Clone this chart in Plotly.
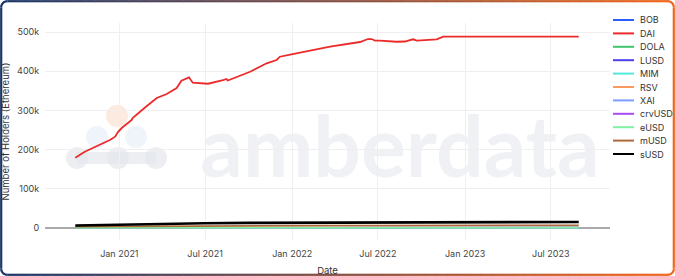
import plotly.graph_objects as go

# ---------------- data ----------------
dai_dates = ["2020-09-30", "2020-10-20", "2020-12-12", "2020-12-23", "2020-12-29", "2021-01-06",
             "2021-01-27", "2021-01-29", "2021-02-28", "2021-03-21", "2021-04-11", "2021-05-02",
             "2021-05-12", "2021-05-28", "2021-06-05", "2021-06-26", "2021-07-07", "2021-08-08",
             "2021-08-15", "2021-08-18", "2021-10-04", "2021-11-08", "2021-11-29", "2021-12-06",
             "2021-12-27", "2022-01-02", "2022-03-22", "2022-05-09", "2022-05-24", "2022-06-10",
             "2022-06-18", "2022-06-25", "2022-07-05", "2022-08-09", "2022-08-27", "2022-09-13",
             "2022-09-21", "2022-11-02", "2022-11-09", "2022-11-16", "2023-08-29"]
dai_values = [179300, 194600, 224500, 232900, 244900, 255100,
              275500, 280600, 311200, 331600, 341800, 357100,
              375800, 384400, 370700, 370000, 368100, 377500,
              380100, 376300, 398700, 420200, 428600, 437000,
              441300, 443900, 462500, 472700, 474500, 482100,
              482100, 477800, 477800, 475200, 475800, 481400,
              478000, 481400, 484700, 488000, 488000]

minor_dates = ["2020-09-30", "2020-12-31", "2021-03-31", "2021-06-30", "2021-09-30", "2021-12-31",
               "2022-03-31", "2022-06-30", "2022-09-30", "2022-12-31", "2023-03-31", "2023-06-30",
               "2023-08-29"]
bob_values = [0, 0, 0, 0, 0, 0, 0, 0, 0, 0, 0, 0, 100]
dola_values = [0, 0, 100, 200, 300, 400, 500, 500, 500, 500, 500, 500, 500]
lusd_values = [0, 0, 200, 400, 500, 600, 600, 700, 700, 700, 700, 700, 700]
mim_values = [0, 0, 0, 200, 400, 500, 600, 600, 600, 600, 600, 600, 600]
rsv_values = [300, 300, 300, 300, 300, 300, 300, 300, 300, 300, 300, 300, 300]
xai_values = [0, 0, 0, 0, 0, 0, 0, 0, 0, 0, 0, 0, 100]
crvusd_values = [0, 0, 0, 0, 0, 0, 0, 0, 0, 0, 0, 200, 300]
eusd_values = [300, 300, 300, 300, 300, 300, 300, 300, 300, 300, 300, 300, 300]
musd_values = [3500, 4200, 4800, 5200, 5500, 5800, 6000, 6200, 6300, 6400, 6500, 6600, 6700]
susd_values = [6500, 9000, 11000, 12300, 13000, 13500, 14000, 14500, 14800, 15000, 15200, 15400, 15500]

series_names = ["BOB", "DAI", "DOLA", "LUSD", "MIM", "RSV", "XAI", "crvUSD", "eUSD", "mUSD", "sUSD"]
series_colors = ["#2a5cff", "#ec2a2a", "#3ec66c", "#4a3ff0", "#52e8d6", "#fb9a5c",
                 "#7c9cff", "#a74cf2", "#7df2a2", "#b0683a", "#000000"]

y_ticks = [0, 100000, 200000, 300000, 400000, 500000]
y_tick_text = ["0", "100k", "200k", "300k", "400k", "500k"]
x_range = ["2020-07-28", "2023-11-03"]
y_range = [-30600, 523000]

# ---------------- figure ----------------
W, H = 675, 276
ML, MR, MT, MB = 45, 65, 23, 36
PW, PH = W - ML - MR, H - MT - MB


def px(x):
    return (x - ML) / PW


def py(y):
    return (H - MB - y) / PH


series_data = {
    "BOB": (minor_dates, bob_values),
    "DAI": (dai_dates, dai_values),
    "DOLA": (minor_dates, dola_values),
    "LUSD": (minor_dates, lusd_values),
    "MIM": (minor_dates, mim_values),
    "RSV": (minor_dates, rsv_values),
    "XAI": (minor_dates, xai_values),
    "crvUSD": (minor_dates, crvusd_values),
    "eUSD": (minor_dates, eusd_values),
    "mUSD": (minor_dates, musd_values),
    "sUSD": (minor_dates, susd_values),
}

fig = go.Figure()
for name, color in zip(series_names, series_colors):
    d, v = series_data[name]
    fig.add_trace(go.Scatter(
        x=d, y=v, mode="lines", name=name,
        line=dict(color=color, width=2.6 if name == "sUSD" else 1.8),
        showlegend=False,
    ))

shapes = []
annotations = []

# watermark logo (decorative circles)
logo = [
    (117, 116, 11, "rgba(249,214,196,0.5)"),
    (97, 137, 11, "rgba(224,235,246,0.55)"),
    (136, 137, 11, "rgba(224,235,246,0.55)"),
    (77, 158, 11, "rgba(228,231,237,0.7)"),
    (118, 158, 11, "rgba(228,231,237,0.7)"),
    (156, 158, 11, "rgba(228,231,237,0.7)"),
]
for cx, cy, r, col in logo:
    shapes.append(dict(type="circle", xref="paper", yref="paper", layer="below",
                       x0=px(cx - r), x1=px(cx + r), y0=py(cy + r), y1=py(cy - r),
                       fillcolor=col, line=dict(width=0)))
shapes.append(dict(type="rect", xref="paper", yref="paper", layer="below",
                   x0=px(77), x1=px(156), y0=py(164), y1=py(152),
                   fillcolor="rgba(228,231,237,0.7)", line=dict(width=0)))
# watermark wordmark
shapes.append(dict(type="rect", xref="paper", yref="paper", layer="below",
                   x0=px(185), x1=px(615), y0=py(188), y1=py(98),
                   line=dict(width=0), fillcolor="rgba(0,0,0,0)",
                   label=dict(text="amberdata", textposition="middle center",
                              font=dict(family="Lato", size=84, weight=700,
                                        color="rgba(232,235,240,0.7)"))))

# custom compact legend
for i, (name, color) in enumerate(zip(series_names, series_colors)):
    yy = 20 + 13.4 * i
    shapes.append(dict(type="line", xref="paper", yref="paper",
                       x0=px(613), x1=px(634), y0=py(yy), y1=py(yy),
                       line=dict(color=color, width=2)))
    annotations.append(dict(text=name, xref="paper", yref="paper", x=px(638), y=py(yy),
                            xanchor="left", yanchor="middle", showarrow=False,
                            font=dict(family="Inter", size=9, color="#333333")))

# gradient rounded border
navy = (27, 55, 105)
orange = (240, 104, 30)


def mix(t):
    return "rgb(%d,%d,%d)" % tuple(round(a + (b - a) * t) for a, b in zip(navy, orange))


bx0, bx1, by0, by1, rad = 1.2, 673.8, 1.2, 274.8, 6
nseg = 60
for k in range(nseg):
    xa = bx0 + rad + (bx1 - bx0 - 2 * rad) * k / nseg
    xb = bx0 + rad + (bx1 - bx0 - 2 * rad) * (k + 1) / nseg
    c = mix((k + 0.5) / nseg)
    for yy in (by0, by1):
        shapes.append(dict(type="line", xref="paper", yref="paper",
                           x0=px(xa), x1=px(xb + 0.4), y0=py(yy), y1=py(yy),
                           line=dict(color=c, width=2.2)))
shapes.append(dict(type="line", xref="paper", yref="paper", x0=px(bx0), x1=px(bx0),
                   y0=py(by0 + rad), y1=py(by1 - rad), line=dict(color=mix(0), width=2.2)))
shapes.append(dict(type="line", xref="paper", yref="paper", x0=px(bx1), x1=px(bx1),
                   y0=py(by0 + rad), y1=py(by1 - rad), line=dict(color=mix(1), width=2.2)))


def arc(cx, cy, a0, a1, color):
    import math
    pts = []
    for j in range(9):
        a = math.radians(a0 + (a1 - a0) * j / 8)
        pts.append((px(cx + rad * math.cos(a)), py(cy + rad * math.sin(a))))
    path = "M %f,%f " % pts[0] + " ".join("L %f,%f" % p for p in pts[1:])
    return dict(type="path", xref="paper", yref="paper", path=path,
                line=dict(color=color, width=2.2))


shapes.append(arc(bx0 + rad, by0 + rad, 180, 270, mix(0)))
shapes.append(arc(bx1 - rad, by0 + rad, 270, 360, mix(1)))
shapes.append(arc(bx1 - rad, by1 - rad, 0, 90, mix(1)))
shapes.append(arc(bx0 + rad, by1 - rad, 90, 180, mix(0)))

fig.update_layout(
    width=W, height=H,
    margin=dict(l=ML, r=MR, t=MT, b=MB, pad=0, autoexpand=False),
    paper_bgcolor="white", plot_bgcolor="white",
    font=dict(family="Inter", size=9, color="#444444"),
    showlegend=False,
    shapes=shapes, annotations=annotations,
    xaxis=dict(
        type="date", range=x_range, tick0="2021-01-01", dtick="M6", tickformat="%b %Y",
        showgrid=True, gridcolor="#efefef", gridwidth=1, zeroline=False, showline=False,
        ticks="outside", ticklen=5, tickcolor="rgba(0,0,0,0)", automargin=False,
        title=dict(text="Date", font=dict(size=9.5, color="#333333")),
        tickfont=dict(size=9, color="#444444"),
    ),
    yaxis=dict(
        range=y_range, tickvals=y_ticks, ticktext=y_tick_text,
        showgrid=True, gridcolor="#efefef", gridwidth=1,
        zeroline=True, zerolinecolor="#aaaaaa", zerolinewidth=1.5, showline=False,
        ticks="outside", ticklen=3, tickcolor="rgba(0,0,0,0)", automargin=False,
        title=dict(text="Number of Holders (Ethereum)", font=dict(size=9.5, color="#333333")),
        tickfont=dict(size=9, color="#444444"),
    ),
)

fig.write_html("out.html")
